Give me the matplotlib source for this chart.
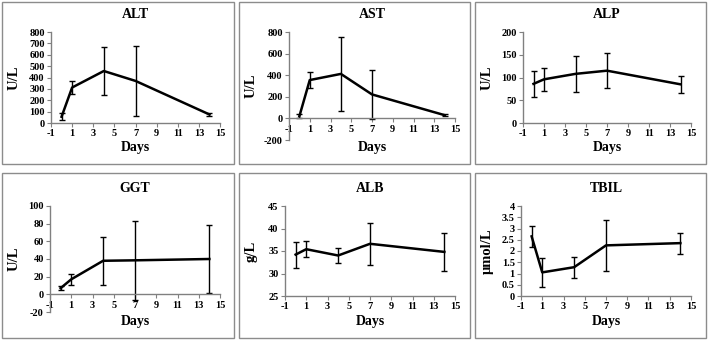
import matplotlib
matplotlib.use("Agg")
import matplotlib.pyplot as plt
from matplotlib.patches import Rectangle

plt.rcParams['font.family'] = ['Liberation Serif', 'DejaVu Serif']
plt.rcParams['font.weight'] = 'bold'
plt.rcParams['axes.unicode_minus'] = False

days = [0, 1, 4, 7, 14]

titles = ["ALT", "AST", "ALP", "GGT", "ALB", "TBIL"]
units = ["U/L", "U/L", "U/L", "U/L", "g/L", "μmol/L"]

alt_mean = [55, 312, 457, 370, 75]
alt_err = [30, 55, 212, 305, 15]
ast_mean = [20, 355, 412, 222, 30]
ast_err = [17, 78, 340, 228, 10]
alp_mean = [86, 96, 108, 115, 85]
alp_err = [28, 25, 40, 38, 18]
ggt_mean = [7, 17, 38, 38.5, 40]
ggt_err = [2.5, 6.5, 27, 45, 38.5]
alb_mean = [34.2, 35.4, 34.0, 36.6, 34.8]
alb_err = [2.9, 1.8, 1.7, 4.6, 4.2]
tbil_mean = [2.65, 1.05, 1.28, 2.25, 2.35]
tbil_err = [0.45, 0.63, 0.47, 1.15, 0.47]

means = [alt_mean, ast_mean, alp_mean, ggt_mean, alb_mean, tbil_mean]
errs = [alt_err, ast_err, alp_err, ggt_err, alb_err, tbil_err]

ylims = [(0, 800), (-200, 800), (0, 200), (-20, 100), (25, 45), (0, 4)]
ysteps = [100, 200, 50, 20, 5, 0.5]
xticks = [-1, 1, 3, 5, 7, 9, 11, 13, 15]

W, H = 708, 340
fig = plt.figure(figsize=(W / 100, H / 100), dpi=100)

# panel boxes (pixels): x0, y0, x1, y1
boxes = [(2, 2, 234, 164), (239, 2, 470, 164), (475, 2, 706, 164),
         (2, 173, 234, 338), (239, 173, 470, 338), (475, 173, 706, 338)]
# axes (pixels): left, top, right, bottom
axes_px = [(51, 32, 220, 123), (289, 32, 455, 140), (523, 32, 691, 123),
           (50, 206, 220, 312), (285, 206, 455, 296), (521, 206, 691, 296)]
title_y = [15, 15, 15, 189, 189, 189]
days_y = [148, 148, 148, 322, 322, 322]
ylab_x = [14, 251, 487, 14, 251, 487]

for i in range(6):
    x0, y0, x1, y1 = boxes[i]
    fig.patches.append(Rectangle((x0 / W, 1 - y1 / H), (x1 - x0) / W, (y1 - y0) / H,
                                 transform=fig.transFigure, fill=False,
                                 edgecolor='#8c8c8c', linewidth=1.0))
    l, t, r, b = axes_px[i]
    ax = fig.add_axes([l / W, 1 - b / H, (r - l) / W, (b - t) / H])
    ax.errorbar(days, means[i], yerr=errs[i], color='black', linewidth=1.8,
                elinewidth=1.0, capsize=2.5, capthick=1.0)
    lo, hi = ylims[i]
    ax.set_xlim(-1, 15)
    ax.set_ylim(lo, hi)
    step = ysteps[i]
    n = int(round((hi - lo) / step))
    yt = [lo + k * step for k in range(n + 1)]
    ax.set_yticks(yt)
    ax.set_yticklabels([('%g' % v) for v in yt])
    ax.set_xticks(xticks)
    ax.set_xticklabels([str(v) for v in xticks])
    for s in ['top', 'right']:
        ax.spines[s].set_visible(False)
    for s in ['left', 'bottom']:
        ax.spines[s].set_color('#808080')
        ax.spines[s].set_linewidth(1.0)
    if lo < 0:
        ax.spines['bottom'].set_position(('data', 0))
    ax.tick_params(axis='both', direction='out', length=3, width=0.8,
                   color='#808080', labelsize=7.5, pad=1.5)
    for lab in ax.get_xticklabels() + ax.get_yticklabels():
        lab.set_fontweight('bold')
    ax.patch.set_alpha(0)
    cx = (l + r) / 2
    fig.text(cx / W, 1 - title_y[i] / H, titles[i], ha='center', va='center',
             fontsize=10, fontweight='bold')
    fig.text(cx / W, 1 - days_y[i] / H, "Days", ha='center', va='center',
             fontsize=10, fontweight='bold')
    fig.text(ylab_x[i] / W, 1 - ((t + b) / 2) / H, units[i], ha='center', va='center',
             rotation=90, fontsize=10.5, fontweight='bold')

fig.savefig("out.png", dpi=100)
